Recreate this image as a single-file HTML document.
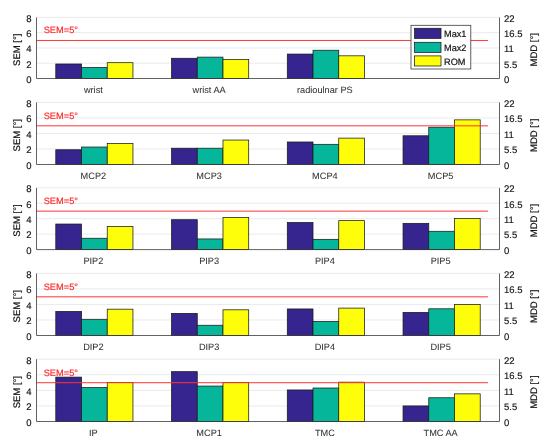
<!DOCTYPE html>
<html><head><meta charset="utf-8"><title>SEM / MDD bar charts</title>
<style>html,body{margin:0;padding:0;background:#fff}body{width:550px;height:448px;overflow:hidden}svg{display:block}</style>
</head><body>
<svg width="550" height="448" viewBox="0 0 550 448" font-family="Liberation Sans, sans-serif" text-rendering="geometricPrecision">
<rect width="550" height="448" fill="#fff"/>
<g>
<line x1="36.5" x2="499.5" y1="63.23" y2="63.23" stroke="#e4e4e4" stroke-width="0.8"/>
<line x1="36.5" x2="499.5" y1="47.95" y2="47.95" stroke="#e4e4e4" stroke-width="0.8"/>
<line x1="36.5" x2="499.5" y1="32.67" y2="32.67" stroke="#e4e4e4" stroke-width="0.8"/>
<line x1="36.5" x2="499.5" y1="17.40" y2="17.40" stroke="#e4e4e4" stroke-width="0.8"/>
<rect x="55.79" y="63.99" width="25.72" height="14.51" fill="#36248F" stroke="#1a1a1a" stroke-width="0.75"/>
<rect x="81.51" y="67.43" width="25.72" height="11.07" fill="#06B69A" stroke="#1a1a1a" stroke-width="0.75"/>
<rect x="107.24" y="62.69" width="25.72" height="15.81" fill="#FEFE0A" stroke="#1a1a1a" stroke-width="0.75"/>
<rect x="171.54" y="58.26" width="25.72" height="20.24" fill="#36248F" stroke="#1a1a1a" stroke-width="0.75"/>
<rect x="197.26" y="57.12" width="25.72" height="21.38" fill="#06B69A" stroke="#1a1a1a" stroke-width="0.75"/>
<rect x="222.99" y="59.41" width="25.72" height="19.09" fill="#FEFE0A" stroke="#1a1a1a" stroke-width="0.75"/>
<rect x="287.29" y="54.06" width="25.72" height="24.44" fill="#36248F" stroke="#1a1a1a" stroke-width="0.75"/>
<rect x="313.01" y="50.24" width="25.72" height="28.26" fill="#06B69A" stroke="#1a1a1a" stroke-width="0.75"/>
<rect x="338.74" y="55.82" width="25.72" height="22.68" fill="#FEFE0A" stroke="#1a1a1a" stroke-width="0.75"/>
<line x1="36.5" x2="487.93" y1="40.46" y2="40.46" stroke="#ff3535" stroke-width="1"/>
<text x="43.70" y="33.10" font-size="9.25" fill="#ff2020" stroke="#ff2020" stroke-width="0.15">SEM=5°</text>
<path d="M36.5 17.40V78.50H499.5V17.40" fill="none" stroke="#3a3a3a" stroke-width="0.8"/>
<text x="31.50" y="82.80" text-anchor="end" font-size="9.5" fill="#151515" stroke="#151515" stroke-width="0.15">0</text>
<text x="31.50" y="67.53" text-anchor="end" font-size="9.5" fill="#151515" stroke="#151515" stroke-width="0.15">2</text>
<text x="31.50" y="52.25" text-anchor="end" font-size="9.5" fill="#151515" stroke="#151515" stroke-width="0.15">4</text>
<text x="31.50" y="36.97" text-anchor="end" font-size="9.5" fill="#151515" stroke="#151515" stroke-width="0.15">6</text>
<text x="31.50" y="21.70" text-anchor="end" font-size="9.5" fill="#151515" stroke="#151515" stroke-width="0.15">8</text>
<text x="504.00" y="82.80" font-size="9.5" fill="#151515" stroke="#151515" stroke-width="0.15">0</text>
<text x="504.00" y="67.53" font-size="9.5" fill="#151515" stroke="#151515" stroke-width="0.15">5.5</text>
<text x="504.00" y="52.25" font-size="9.5" fill="#151515" stroke="#151515" stroke-width="0.15">11</text>
<text x="504.00" y="36.97" font-size="9.5" fill="#151515" stroke="#151515" stroke-width="0.15">16.5</text>
<text x="504.00" y="21.70" font-size="9.5" fill="#151515" stroke="#151515" stroke-width="0.15">22</text>
<text transform="translate(20.2,49.75) rotate(-90)" text-anchor="middle" font-size="9.5" fill="#151515" stroke="#151515" stroke-width="0.2">SEM [°]</text>
<text transform="translate(537,49.75) rotate(-90)" text-anchor="middle" font-size="9.5" fill="#151515" stroke="#151515" stroke-width="0.2">MDD [°]</text>
<text x="93.38" y="93.20" text-anchor="middle" font-size="9.2" fill="#333333" stroke="#333333" stroke-width="0.05">wrist</text>
<text x="209.12" y="93.20" text-anchor="middle" font-size="9.2" fill="#333333" stroke="#333333" stroke-width="0.05">wrist AA</text>
<text x="324.88" y="93.20" text-anchor="middle" font-size="9.2" fill="#333333" stroke="#333333" stroke-width="0.05">radioulnar PS</text>
</g>
<g>
<line x1="36.5" x2="499.5" y1="148.97" y2="148.97" stroke="#e4e4e4" stroke-width="0.8"/>
<line x1="36.5" x2="499.5" y1="133.45" y2="133.45" stroke="#e4e4e4" stroke-width="0.8"/>
<line x1="36.5" x2="499.5" y1="117.93" y2="117.93" stroke="#e4e4e4" stroke-width="0.8"/>
<line x1="36.5" x2="499.5" y1="102.40" y2="102.40" stroke="#e4e4e4" stroke-width="0.8"/>
<rect x="55.79" y="149.75" width="25.72" height="14.75" fill="#36248F" stroke="#1a1a1a" stroke-width="0.75"/>
<rect x="81.51" y="147.03" width="25.72" height="17.47" fill="#06B69A" stroke="#1a1a1a" stroke-width="0.75"/>
<rect x="107.24" y="143.54" width="25.72" height="20.96" fill="#FEFE0A" stroke="#1a1a1a" stroke-width="0.75"/>
<rect x="171.54" y="148.20" width="25.72" height="16.30" fill="#36248F" stroke="#1a1a1a" stroke-width="0.75"/>
<rect x="197.26" y="148.20" width="25.72" height="16.30" fill="#06B69A" stroke="#1a1a1a" stroke-width="0.75"/>
<rect x="222.99" y="140.05" width="25.72" height="24.45" fill="#FEFE0A" stroke="#1a1a1a" stroke-width="0.75"/>
<rect x="287.29" y="141.99" width="25.72" height="22.51" fill="#36248F" stroke="#1a1a1a" stroke-width="0.75"/>
<rect x="313.01" y="144.32" width="25.72" height="20.18" fill="#06B69A" stroke="#1a1a1a" stroke-width="0.75"/>
<rect x="338.74" y="138.11" width="25.72" height="26.39" fill="#FEFE0A" stroke="#1a1a1a" stroke-width="0.75"/>
<rect x="403.04" y="135.78" width="25.72" height="28.72" fill="#36248F" stroke="#1a1a1a" stroke-width="0.75"/>
<rect x="428.76" y="127.24" width="25.72" height="37.26" fill="#06B69A" stroke="#1a1a1a" stroke-width="0.75"/>
<rect x="454.49" y="119.87" width="25.72" height="44.63" fill="#FEFE0A" stroke="#1a1a1a" stroke-width="0.75"/>
<line x1="36.5" x2="487.93" y1="125.84" y2="125.84" stroke="#ff3535" stroke-width="1"/>
<text x="43.70" y="119.10" font-size="9.25" fill="#ff2020" stroke="#ff2020" stroke-width="0.15">SEM=5°</text>
<path d="M36.5 102.40V164.50H499.5V102.40" fill="none" stroke="#3a3a3a" stroke-width="0.8"/>
<text x="31.50" y="168.80" text-anchor="end" font-size="9.5" fill="#151515" stroke="#151515" stroke-width="0.15">0</text>
<text x="31.50" y="153.28" text-anchor="end" font-size="9.5" fill="#151515" stroke="#151515" stroke-width="0.15">2</text>
<text x="31.50" y="137.75" text-anchor="end" font-size="9.5" fill="#151515" stroke="#151515" stroke-width="0.15">4</text>
<text x="31.50" y="122.23" text-anchor="end" font-size="9.5" fill="#151515" stroke="#151515" stroke-width="0.15">6</text>
<text x="31.50" y="106.70" text-anchor="end" font-size="9.5" fill="#151515" stroke="#151515" stroke-width="0.15">8</text>
<text x="504.00" y="168.80" font-size="9.5" fill="#151515" stroke="#151515" stroke-width="0.15">0</text>
<text x="504.00" y="153.28" font-size="9.5" fill="#151515" stroke="#151515" stroke-width="0.15">5.5</text>
<text x="504.00" y="137.75" font-size="9.5" fill="#151515" stroke="#151515" stroke-width="0.15">11</text>
<text x="504.00" y="122.23" font-size="9.5" fill="#151515" stroke="#151515" stroke-width="0.15">16.5</text>
<text x="504.00" y="106.70" font-size="9.5" fill="#151515" stroke="#151515" stroke-width="0.15">22</text>
<text transform="translate(20.2,135.25) rotate(-90)" text-anchor="middle" font-size="9.5" fill="#151515" stroke="#151515" stroke-width="0.2">SEM [°]</text>
<text transform="translate(537,135.25) rotate(-90)" text-anchor="middle" font-size="9.5" fill="#151515" stroke="#151515" stroke-width="0.2">MDD [°]</text>
<text x="93.38" y="179.20" text-anchor="middle" font-size="9.2" fill="#333333" stroke="#333333" stroke-width="0.05">MCP2</text>
<text x="209.12" y="179.20" text-anchor="middle" font-size="9.2" fill="#333333" stroke="#333333" stroke-width="0.05">MCP3</text>
<text x="324.88" y="179.20" text-anchor="middle" font-size="9.2" fill="#333333" stroke="#333333" stroke-width="0.05">MCP4</text>
<text x="440.62" y="179.20" text-anchor="middle" font-size="9.2" fill="#333333" stroke="#333333" stroke-width="0.05">MCP5</text>
</g>
<g>
<line x1="36.5" x2="499.5" y1="234.15" y2="234.15" stroke="#e4e4e4" stroke-width="0.8"/>
<line x1="36.5" x2="499.5" y1="218.70" y2="218.70" stroke="#e4e4e4" stroke-width="0.8"/>
<line x1="36.5" x2="499.5" y1="203.25" y2="203.25" stroke="#e4e4e4" stroke-width="0.8"/>
<line x1="36.5" x2="499.5" y1="187.80" y2="187.80" stroke="#e4e4e4" stroke-width="0.8"/>
<rect x="55.79" y="224.03" width="25.72" height="25.57" fill="#36248F" stroke="#1a1a1a" stroke-width="0.75"/>
<rect x="81.51" y="238.24" width="25.72" height="11.36" fill="#06B69A" stroke="#1a1a1a" stroke-width="0.75"/>
<rect x="107.24" y="226.50" width="25.72" height="23.10" fill="#FEFE0A" stroke="#1a1a1a" stroke-width="0.75"/>
<rect x="171.54" y="219.70" width="25.72" height="29.90" fill="#36248F" stroke="#1a1a1a" stroke-width="0.75"/>
<rect x="197.26" y="238.94" width="25.72" height="10.66" fill="#06B69A" stroke="#1a1a1a" stroke-width="0.75"/>
<rect x="222.99" y="217.46" width="25.72" height="32.14" fill="#FEFE0A" stroke="#1a1a1a" stroke-width="0.75"/>
<rect x="287.29" y="222.49" width="25.72" height="27.11" fill="#36248F" stroke="#1a1a1a" stroke-width="0.75"/>
<rect x="313.01" y="239.33" width="25.72" height="10.27" fill="#06B69A" stroke="#1a1a1a" stroke-width="0.75"/>
<rect x="338.74" y="220.63" width="25.72" height="28.97" fill="#FEFE0A" stroke="#1a1a1a" stroke-width="0.75"/>
<rect x="403.04" y="223.34" width="25.72" height="26.26" fill="#36248F" stroke="#1a1a1a" stroke-width="0.75"/>
<rect x="428.76" y="231.29" width="25.72" height="18.31" fill="#06B69A" stroke="#1a1a1a" stroke-width="0.75"/>
<rect x="454.49" y="218.47" width="25.72" height="31.13" fill="#FEFE0A" stroke="#1a1a1a" stroke-width="0.75"/>
<line x1="36.5" x2="487.93" y1="211.13" y2="211.13" stroke="#ff3535" stroke-width="1"/>
<text x="43.70" y="204.20" font-size="9.25" fill="#ff2020" stroke="#ff2020" stroke-width="0.15">SEM=5°</text>
<path d="M36.5 187.80V249.60H499.5V187.80" fill="none" stroke="#3a3a3a" stroke-width="0.8"/>
<text x="31.50" y="253.90" text-anchor="end" font-size="9.5" fill="#151515" stroke="#151515" stroke-width="0.15">0</text>
<text x="31.50" y="238.45" text-anchor="end" font-size="9.5" fill="#151515" stroke="#151515" stroke-width="0.15">2</text>
<text x="31.50" y="223.00" text-anchor="end" font-size="9.5" fill="#151515" stroke="#151515" stroke-width="0.15">4</text>
<text x="31.50" y="207.55" text-anchor="end" font-size="9.5" fill="#151515" stroke="#151515" stroke-width="0.15">6</text>
<text x="31.50" y="192.10" text-anchor="end" font-size="9.5" fill="#151515" stroke="#151515" stroke-width="0.15">8</text>
<text x="504.00" y="253.90" font-size="9.5" fill="#151515" stroke="#151515" stroke-width="0.15">0</text>
<text x="504.00" y="238.45" font-size="9.5" fill="#151515" stroke="#151515" stroke-width="0.15">5.5</text>
<text x="504.00" y="223.00" font-size="9.5" fill="#151515" stroke="#151515" stroke-width="0.15">11</text>
<text x="504.00" y="207.55" font-size="9.5" fill="#151515" stroke="#151515" stroke-width="0.15">16.5</text>
<text x="504.00" y="192.10" font-size="9.5" fill="#151515" stroke="#151515" stroke-width="0.15">22</text>
<text transform="translate(20.2,220.50) rotate(-90)" text-anchor="middle" font-size="9.5" fill="#151515" stroke="#151515" stroke-width="0.2">SEM [°]</text>
<text transform="translate(537,220.50) rotate(-90)" text-anchor="middle" font-size="9.5" fill="#151515" stroke="#151515" stroke-width="0.2">MDD [°]</text>
<text x="93.38" y="264.30" text-anchor="middle" font-size="9.2" fill="#333333" stroke="#333333" stroke-width="0.05">PIP2</text>
<text x="209.12" y="264.30" text-anchor="middle" font-size="9.2" fill="#333333" stroke="#333333" stroke-width="0.05">PIP3</text>
<text x="324.88" y="264.30" text-anchor="middle" font-size="9.2" fill="#333333" stroke="#333333" stroke-width="0.05">PIP4</text>
<text x="440.62" y="264.30" text-anchor="middle" font-size="9.2" fill="#333333" stroke="#333333" stroke-width="0.05">PIP5</text>
</g>
<g>
<line x1="36.5" x2="499.5" y1="319.98" y2="319.98" stroke="#e4e4e4" stroke-width="0.8"/>
<line x1="36.5" x2="499.5" y1="304.45" y2="304.45" stroke="#e4e4e4" stroke-width="0.8"/>
<line x1="36.5" x2="499.5" y1="288.92" y2="288.92" stroke="#e4e4e4" stroke-width="0.8"/>
<line x1="36.5" x2="499.5" y1="273.40" y2="273.40" stroke="#e4e4e4" stroke-width="0.8"/>
<rect x="55.79" y="311.44" width="25.72" height="24.06" fill="#36248F" stroke="#1a1a1a" stroke-width="0.75"/>
<rect x="81.51" y="319.28" width="25.72" height="16.22" fill="#06B69A" stroke="#1a1a1a" stroke-width="0.75"/>
<rect x="107.24" y="309.19" width="25.72" height="26.31" fill="#FEFE0A" stroke="#1a1a1a" stroke-width="0.75"/>
<rect x="171.54" y="313.38" width="25.72" height="22.12" fill="#36248F" stroke="#1a1a1a" stroke-width="0.75"/>
<rect x="197.26" y="325.25" width="25.72" height="10.25" fill="#06B69A" stroke="#1a1a1a" stroke-width="0.75"/>
<rect x="222.99" y="309.81" width="25.72" height="25.69" fill="#FEFE0A" stroke="#1a1a1a" stroke-width="0.75"/>
<rect x="287.29" y="308.95" width="25.72" height="26.55" fill="#36248F" stroke="#1a1a1a" stroke-width="0.75"/>
<rect x="313.01" y="321.45" width="25.72" height="14.05" fill="#06B69A" stroke="#1a1a1a" stroke-width="0.75"/>
<rect x="338.74" y="308.10" width="25.72" height="27.40" fill="#FEFE0A" stroke="#1a1a1a" stroke-width="0.75"/>
<rect x="403.04" y="312.37" width="25.72" height="23.13" fill="#36248F" stroke="#1a1a1a" stroke-width="0.75"/>
<rect x="428.76" y="308.80" width="25.72" height="26.70" fill="#06B69A" stroke="#1a1a1a" stroke-width="0.75"/>
<rect x="454.49" y="304.61" width="25.72" height="30.89" fill="#FEFE0A" stroke="#1a1a1a" stroke-width="0.75"/>
<line x1="36.5" x2="487.93" y1="296.84" y2="296.84" stroke="#ff3535" stroke-width="1"/>
<text x="43.70" y="290.10" font-size="9.25" fill="#ff2020" stroke="#ff2020" stroke-width="0.15">SEM=5°</text>
<path d="M36.5 273.40V335.50H499.5V273.40" fill="none" stroke="#3a3a3a" stroke-width="0.8"/>
<text x="31.50" y="339.80" text-anchor="end" font-size="9.5" fill="#151515" stroke="#151515" stroke-width="0.15">0</text>
<text x="31.50" y="324.28" text-anchor="end" font-size="9.5" fill="#151515" stroke="#151515" stroke-width="0.15">2</text>
<text x="31.50" y="308.75" text-anchor="end" font-size="9.5" fill="#151515" stroke="#151515" stroke-width="0.15">4</text>
<text x="31.50" y="293.22" text-anchor="end" font-size="9.5" fill="#151515" stroke="#151515" stroke-width="0.15">6</text>
<text x="31.50" y="277.70" text-anchor="end" font-size="9.5" fill="#151515" stroke="#151515" stroke-width="0.15">8</text>
<text x="504.00" y="339.80" font-size="9.5" fill="#151515" stroke="#151515" stroke-width="0.15">0</text>
<text x="504.00" y="324.28" font-size="9.5" fill="#151515" stroke="#151515" stroke-width="0.15">5.5</text>
<text x="504.00" y="308.75" font-size="9.5" fill="#151515" stroke="#151515" stroke-width="0.15">11</text>
<text x="504.00" y="293.22" font-size="9.5" fill="#151515" stroke="#151515" stroke-width="0.15">16.5</text>
<text x="504.00" y="277.70" font-size="9.5" fill="#151515" stroke="#151515" stroke-width="0.15">22</text>
<text transform="translate(20.2,306.25) rotate(-90)" text-anchor="middle" font-size="9.5" fill="#151515" stroke="#151515" stroke-width="0.2">SEM [°]</text>
<text transform="translate(537,306.25) rotate(-90)" text-anchor="middle" font-size="9.5" fill="#151515" stroke="#151515" stroke-width="0.2">MDD [°]</text>
<text x="93.38" y="350.20" text-anchor="middle" font-size="9.2" fill="#333333" stroke="#333333" stroke-width="0.05">DIP2</text>
<text x="209.12" y="350.20" text-anchor="middle" font-size="9.2" fill="#333333" stroke="#333333" stroke-width="0.05">DIP3</text>
<text x="324.88" y="350.20" text-anchor="middle" font-size="9.2" fill="#333333" stroke="#333333" stroke-width="0.05">DIP4</text>
<text x="440.62" y="350.20" text-anchor="middle" font-size="9.2" fill="#333333" stroke="#333333" stroke-width="0.05">DIP5</text>
</g>
<g>
<line x1="36.5" x2="499.5" y1="405.93" y2="405.93" stroke="#e4e4e4" stroke-width="0.8"/>
<line x1="36.5" x2="499.5" y1="390.35" y2="390.35" stroke="#e4e4e4" stroke-width="0.8"/>
<line x1="36.5" x2="499.5" y1="374.77" y2="374.77" stroke="#e4e4e4" stroke-width="0.8"/>
<line x1="36.5" x2="499.5" y1="359.20" y2="359.20" stroke="#e4e4e4" stroke-width="0.8"/>
<rect x="55.79" y="377.11" width="25.72" height="44.39" fill="#36248F" stroke="#1a1a1a" stroke-width="0.75"/>
<rect x="81.51" y="387.62" width="25.72" height="33.88" fill="#06B69A" stroke="#1a1a1a" stroke-width="0.75"/>
<rect x="107.24" y="382.56" width="25.72" height="38.94" fill="#FEFE0A" stroke="#1a1a1a" stroke-width="0.75"/>
<rect x="171.54" y="371.66" width="25.72" height="49.84" fill="#36248F" stroke="#1a1a1a" stroke-width="0.75"/>
<rect x="197.26" y="386.07" width="25.72" height="35.43" fill="#06B69A" stroke="#1a1a1a" stroke-width="0.75"/>
<rect x="222.99" y="382.56" width="25.72" height="38.94" fill="#FEFE0A" stroke="#1a1a1a" stroke-width="0.75"/>
<rect x="287.29" y="389.96" width="25.72" height="31.54" fill="#36248F" stroke="#1a1a1a" stroke-width="0.75"/>
<rect x="313.01" y="388.01" width="25.72" height="33.49" fill="#06B69A" stroke="#1a1a1a" stroke-width="0.75"/>
<rect x="338.74" y="382.17" width="25.72" height="39.33" fill="#FEFE0A" stroke="#1a1a1a" stroke-width="0.75"/>
<rect x="403.04" y="405.93" width="25.72" height="15.58" fill="#36248F" stroke="#1a1a1a" stroke-width="0.75"/>
<rect x="428.76" y="397.75" width="25.72" height="23.75" fill="#06B69A" stroke="#1a1a1a" stroke-width="0.75"/>
<rect x="454.49" y="393.85" width="25.72" height="27.65" fill="#FEFE0A" stroke="#1a1a1a" stroke-width="0.75"/>
<line x1="36.5" x2="487.93" y1="382.71" y2="382.71" stroke="#ff3535" stroke-width="1"/>
<text x="43.70" y="376.10" font-size="9.25" fill="#ff2020" stroke="#ff2020" stroke-width="0.15">SEM=5°</text>
<path d="M36.5 359.20V421.50H499.5V359.20" fill="none" stroke="#3a3a3a" stroke-width="0.8"/>
<text x="31.50" y="425.80" text-anchor="end" font-size="9.5" fill="#151515" stroke="#151515" stroke-width="0.15">0</text>
<text x="31.50" y="410.23" text-anchor="end" font-size="9.5" fill="#151515" stroke="#151515" stroke-width="0.15">2</text>
<text x="31.50" y="394.65" text-anchor="end" font-size="9.5" fill="#151515" stroke="#151515" stroke-width="0.15">4</text>
<text x="31.50" y="379.07" text-anchor="end" font-size="9.5" fill="#151515" stroke="#151515" stroke-width="0.15">6</text>
<text x="31.50" y="363.50" text-anchor="end" font-size="9.5" fill="#151515" stroke="#151515" stroke-width="0.15">8</text>
<text x="504.00" y="425.80" font-size="9.5" fill="#151515" stroke="#151515" stroke-width="0.15">0</text>
<text x="504.00" y="410.23" font-size="9.5" fill="#151515" stroke="#151515" stroke-width="0.15">5.5</text>
<text x="504.00" y="394.65" font-size="9.5" fill="#151515" stroke="#151515" stroke-width="0.15">11</text>
<text x="504.00" y="379.07" font-size="9.5" fill="#151515" stroke="#151515" stroke-width="0.15">16.5</text>
<text x="504.00" y="363.50" font-size="9.5" fill="#151515" stroke="#151515" stroke-width="0.15">22</text>
<text transform="translate(20.2,392.15) rotate(-90)" text-anchor="middle" font-size="9.5" fill="#151515" stroke="#151515" stroke-width="0.2">SEM [°]</text>
<text transform="translate(537,392.15) rotate(-90)" text-anchor="middle" font-size="9.5" fill="#151515" stroke="#151515" stroke-width="0.2">MDD [°]</text>
<text x="93.38" y="436.20" text-anchor="middle" font-size="9.2" fill="#333333" stroke="#333333" stroke-width="0.05">IP</text>
<text x="209.12" y="436.20" text-anchor="middle" font-size="9.2" fill="#333333" stroke="#333333" stroke-width="0.05">MCP1</text>
<text x="324.88" y="436.20" text-anchor="middle" font-size="9.2" fill="#333333" stroke="#333333" stroke-width="0.05">TMC</text>
<text x="440.62" y="436.20" text-anchor="middle" font-size="9.2" fill="#333333" stroke="#333333" stroke-width="0.05">TMC AA</text>
</g>
<rect x="411" y="25.3" width="59.8" height="43.7" fill="#fff" stroke="#3a3a3a" stroke-width="0.8"/>
<rect x="414.6" y="28.3" width="26.4" height="10.1" fill="#36248F" stroke="#1a1a1a" stroke-width="0.75"/>
<text x="444.00" y="37.20" font-size="9.2" fill="#151515" stroke="#151515" stroke-width="0.2">Max1</text>
<rect x="414.6" y="42.3" width="26.4" height="10.1" fill="#06B69A" stroke="#1a1a1a" stroke-width="0.75"/>
<text x="444.00" y="51.20" font-size="9.2" fill="#151515" stroke="#151515" stroke-width="0.2">Max2</text>
<rect x="414.6" y="55.9" width="26.4" height="10.1" fill="#FEFE0A" stroke="#1a1a1a" stroke-width="0.75"/>
<text x="444.00" y="64.80" font-size="9.2" fill="#151515" stroke="#151515" stroke-width="0.2">ROM</text>
</svg>
</body></html>
